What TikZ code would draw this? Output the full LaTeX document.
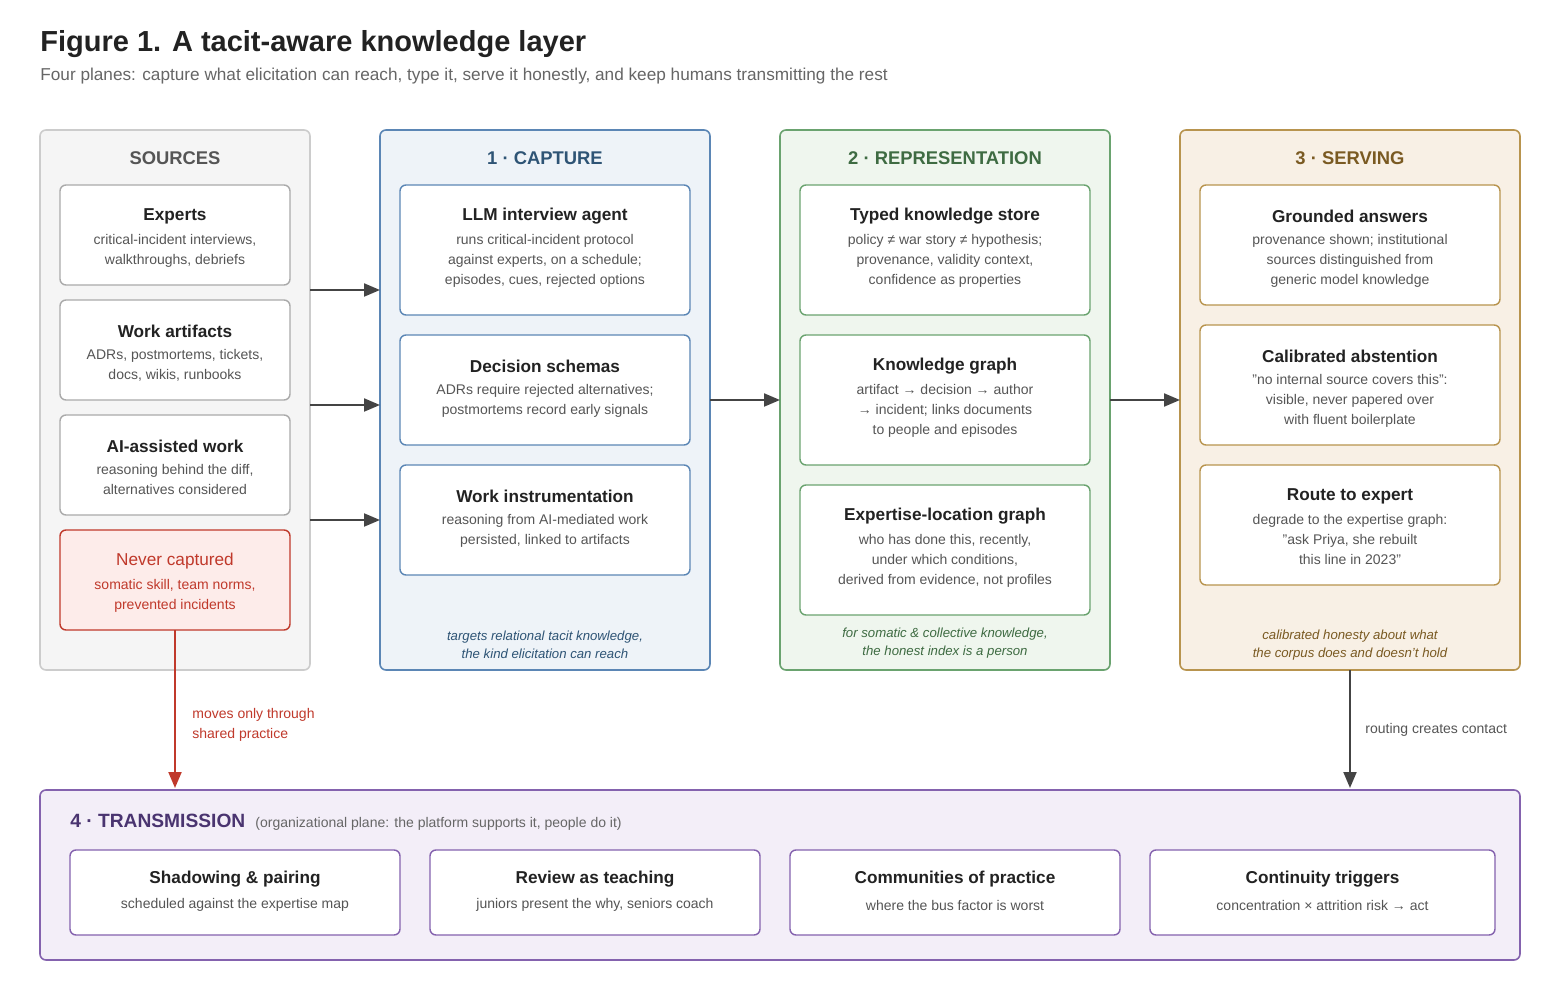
\documentclass[tikz,border=0pt]{standalone}
\usepackage{fontspec}
\setmainfont{Liberation Sans}
\usetikzlibrary{arrows.meta}
\definecolor{ink}{HTML}{222222}
\definecolor{sub}{HTML}{666666}
\definecolor{body}{HTML}{555555}
\definecolor{arr}{HTML}{444444}
\definecolor{srcF}{HTML}{F5F5F5}\definecolor{srcS}{HTML}{CCCCCC}\definecolor{srcH}{HTML}{555555}
\definecolor{capF}{HTML}{EEF3F8}\definecolor{capS}{HTML}{5B86B5}\definecolor{capH}{HTML}{2E5475}
\definecolor{repF}{HTML}{EFF6EE}\definecolor{repS}{HTML}{6AA36F}\definecolor{repH}{HTML}{3E6B42}
\definecolor{serF}{HTML}{F8F0E5}\definecolor{serS}{HTML}{B8944E}\definecolor{serH}{HTML}{7A5A22}
\definecolor{traF}{HTML}{F3EEF8}\definecolor{traS}{HTML}{8462AE}\definecolor{traH}{HTML}{4A3470}
\definecolor{redF}{HTML}{FDECEA}\definecolor{redS}{HTML}{C0392B}
\definecolor{boxS}{HTML}{AAAAAA}
\tikzset{
 panel/.style={rounded corners=3pt,line width=0.8pt},
 kb/.style={rounded corners=3pt,line width=0.7pt,fill=white},
 ttl/.style={font=\fontsize{8.6}{10}\selectfont\bfseries,text=ink,inner sep=0pt},
 bod/.style={font=\fontsize{7}{10}\selectfont,text=body,align=center,inner sep=0pt,anchor=north},
 hdr/.style={font=\fontsize{9.2}{11}\selectfont\bfseries,inner sep=0pt},
 foot/.style={font=\fontsize{6.6}{9}\selectfont\itshape,align=center,inner sep=0pt},
 con/.style={line width=1pt,draw=arr,-{Triangle[length=8pt,width=6.5pt]}},
}
% name, x1, y1, x2, y2, stroke, title, body
\newcommand\kbox[8]{%
 \draw[kb,draw=#6] (#2,#3) rectangle (#4,#5);
 \coordinate (#1) at ({(#2+#4)/2},{(#3+#5)/2});
 \node[ttl] (#1t) at ({(#2+#4)/2},#3+31) {#7};
 \node[bod] (#1b) at ({(#2+#4)/2},#3+49) {#8};}
\newcommand\tbox[7]{%
 \draw[kb,draw=traS] (#2,#3) rectangle (#4,#5);
 \coordinate (#1) at ({(#2+#4)/2},{(#3+#5)/2});
 \node[ttl] (#1t) at ({(#2+#4)/2},#3+29) {#6};
 \node[bod,anchor=center] (#1b) at ({(#2+#4)/2},#3+55) {#7};}
\begin{document}
\begin{tikzpicture}[x=0.5pt,y=-0.5pt]
\useasboundingbox[fill=white] (0,0) rectangle (1560,1000);
\node[anchor=base west,inner sep=0pt,font=\fontsize{14.5}{16}\selectfont\bfseries,text=ink] (title) at (40,52) {Figure 1. A tacit-aware knowledge layer};
\node[anchor=base west,inner sep=0pt,font=\fontsize{8.6}{10}\selectfont,text=sub] (subt) at (40,81) {Four planes: capture what elicitation can reach, type it, serve it honestly, and keep humans transmitting the rest};
% panels
\draw[panel,fill=srcF,draw=srcS] (40,130) rectangle (310,670) coordinate (srcBR);
\coordinate (src) at (175,400);
\node[hdr,text=srcH] (srch) at (175,158) {SOURCES};
\draw[panel,fill=capF,draw=capS] (380,130) rectangle (710,670);
\coordinate (cap) at (545,400);
\node[hdr,text=capH] (caph) at (545,158) {1 · CAPTURE};
\draw[panel,fill=repF,draw=repS] (780,130) rectangle (1110,670);
\coordinate (rep) at (945,400);
\node[hdr,text=repH] (reph) at (945,158) {2 · REPRESENTATION};
\draw[panel,fill=serF,draw=serS] (1180,130) rectangle (1520,670);
\coordinate (ser) at (1350,400);
\node[hdr,text=serH] (serh) at (1350,158) {3 · SERVING};
\draw[panel,fill=traF,draw=traS] (40,790) rectangle (1520,960);
\node[hdr,text=traH,anchor=base west,font=\fontsize{9.6}{11}\selectfont\bfseries] (trah) at (70,827) {4 · TRANSMISSION};
\node[anchor=base west,inner sep=0pt,font=\fontsize{7}{9}\selectfont,text=sub] (tras) at (255,827) {(organizational plane: the platform supports it, people do it)};
% sources
\kbox{exp}{60}{185}{290}{285}{boxS}{Experts}{critical-incident interviews,\\walkthroughs, debriefs}
\kbox{art}{60}{300}{290}{400}{boxS}{Work artifacts}{ADRs, postmortems, tickets,\\docs, wikis, runbooks}
\kbox{aiw}{60}{415}{290}{515}{boxS}{AI-assisted work}{reasoning behind the diff,\\alternatives considered}
\draw[kb,fill=redF,draw=redS] (60,530) rectangle (290,630);
\coordinate (nev) at (175,580);
\node[ttl,text=redS,font=\fontsize{8.6}{10}\selectfont] (nevt) at (175,561) {Never captured};
\node[bod,text=redS] (nevb) at (175,579) {somatic skill, team norms,\\prevented incidents};
% capture
\kbox{llm}{400}{185}{690}{315}{capS}{LLM interview agent}{runs critical-incident protocol\\against experts, on a schedule;\\episodes, cues, rejected options}
\kbox{dec}{400}{335}{690}{445}{capS}{Decision schemas}{ADRs require rejected alternatives;\\postmortems record early signals}
\kbox{wki}{400}{465}{690}{575}{capS}{Work instrumentation}{reasoning from AI-mediated work\\persisted, linked to artifacts}
\node[foot,text=capH] (capf) at (545,645) {targets relational tacit knowledge,\\the kind elicitation can reach};
% representation
\kbox{tks}{800}{185}{1090}{315}{repS}{Typed knowledge store}{policy ≠ war story ≠ hypothesis;\\provenance, validity context,\\confidence as properties}
\kbox{kg}{800}{335}{1090}{465}{repS}{Knowledge graph}{artifact → decision → author\\→ incident; links documents\\to people and episodes}
\kbox{elg}{800}{485}{1090}{615}{repS}{Expertise-location graph}{who has done this, recently,\\under which conditions,\\derived from evidence, not profiles}
\node[foot,text=repH] (repf) at (945,643) {for somatic \& collective knowledge,\\the honest index is a person};
% serving
\kbox{gra}{1200}{185}{1500}{305}{serS}{Grounded answers}{provenance shown; institutional\\sources distinguished from\\generic model knowledge}
\kbox{cab}{1200}{325}{1500}{445}{serS}{Calibrated abstention}{"no internal source covers this":\\visible, never papered over\\with fluent boilerplate}
\kbox{rte}{1200}{465}{1500}{585}{serS}{Route to expert}{degrade to the expertise graph:\\"ask Priya, she rebuilt\\this line in 2023"}
\node[foot,text=serH] (serf) at (1350,645) {calibrated honesty about what\\the corpus does and doesn't hold};
% transmission
\tbox{sha}{70}{850}{400}{935}{Shadowing \& pairing}{scheduled against the expertise map}
\tbox{rev}{430}{850}{760}{935}{Review as teaching}{juniors present the why, seniors coach}
\tbox{cop}{790}{850}{1120}{935}{Communities of practice}{where the bus factor is worst}
\tbox{ctr}{1150}{850}{1495}{935}{Continuity triggers}{concentration × attrition risk → act}
% connectors
\coordinate (s1) at (310,290); \coordinate (c1) at (380,290);
\coordinate (s2) at (310,405); \coordinate (c2) at (380,405);
\coordinate (s3) at (310,520); \coordinate (c3) at (380,520);
\draw[con] (s1) -- (c1);
\draw[con] (s2) -- (c2);
\draw[con] (s3) -- (c3);
\coordinate (ce) at (710,400); \coordinate (rw) at (780,400);
\draw[con] (ce) -- (rw);
\coordinate (re) at (1110,400); \coordinate (sw) at (1180,400);
\draw[con] (re) -- (sw);
\coordinate (nevB) at (175,630); \coordinate (traA) at (175,788);
\draw[con,draw=redS,fill=redS] (nevB) -- (traA);
\node[anchor=west,inner sep=0pt,align=left,font=\fontsize{7}{10}\selectfont,text=redS] (mv) at (192,725) {moves only through\\shared practice};
\coordinate (serB) at (1350,670); \coordinate (traB) at (1350,788);
\draw[con] (serB) -- (traB);
\node[anchor=west,inner sep=0pt,font=\fontsize{7}{10}\selectfont,text=body] (rc) at (1365,730) {routing creates contact};
\end{tikzpicture}
\end{document}
